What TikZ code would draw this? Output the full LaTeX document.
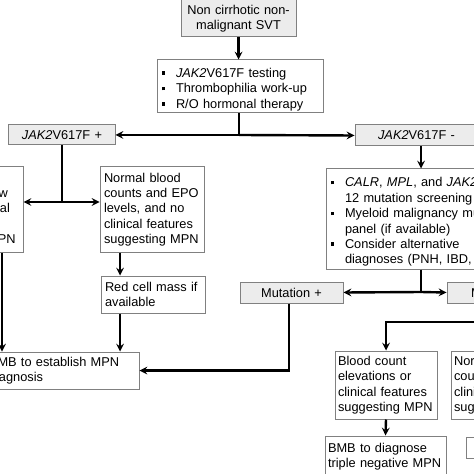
\documentclass[tikz,border=0pt]{standalone}
\usepackage{fontspec}
\setmainfont{Liberation Sans}
\definecolor{boxline}{RGB}{128,128,128}
\definecolor{headfill}{RGB}{236,236,236}
\newcommand{\bitem}{\par\noindent\hangindent=16bp\hangafter=1\makebox[16bp][l]{\hspace{2bp}\rule[2.6bp]{3.4bp}{3.4bp}}}
\begin{document}
\begin{tikzpicture}[x=1bp, y=-1bp,
    arrow/.style = {line width=2.4bp,-stealth},
    link/.style = {line width=2.4bp},
    box/.style = {draw=boxline, line width=1bp, fill=white, inner xsep=4bp, inner ysep=0pt,
                  align=left, font=\fontsize{12.8bp}{15.4bp}\selectfont},
    head/.style = {box, fill=headfill, align=center}]
  \useasboundingbox (0,0) rectangle (474,474);
  \clip (0,0) rectangle (474,474);

  % top of the chart
  \node[head, text width=107bp, minimum height=37bp] (svt) at (238.5,18.5) {Non cirrhotic non-\\malignant SVT};
  \node[box, inner xsep=3bp, text width=160bp, minimum height=53bp] (test) at (240,86.5)
    {\bitem\textit{JAK2}V617F testing\bitem Thrombophilia work-up\bitem R/O hormonal therapy\par};
  \node[head, text width=98bp, minimum height=20bp] (jpos) at (62,135) {\textit{JAK2}V617F +};
  \node[head, text width=115bp, minimum height=21bp] (jneg) at (416.5,135.5) {\textit{JAK2}V617F -};

  % positive branch
  \node[box, text width=98bp, minimum height=85bp] (elev) at (-30,209.5)
    {High blood\\counts and low\\EPO, or clinical\\features\\suggesting MPN};
  \node[box, text width=96bp, minimum height=85bp] (normal) at (152,209.5)
    {Normal blood\\counts and EPO\\levels, and no\\clinical features\\suggesting MPN};
  \node[box, text width=96bp, minimum height=37bp] (rcm) at (153,294.5) {Red cell mass if\\available};
  \node[box, text width=146bp, minimum height=37bp] (bmbl) at (62,370.5) {BMB to establish MPN\\diagnosis};

  % negative branch
  \node[box, inner xsep=3bp, text width=184bp, minimum height=100bp] (calr) at (421,219)
    {\bitem\textit{CALR}, \textit{MPL}, and \textit{JAK2} exon\newline 12 mutation screening
     \bitem Myeloid malignancy mutation\newline panel (if available)
     \bitem Consider alternative\newline diagnoses (PNH, IBD, etc.)\par};
  \node[head, text width=95bp, minimum height=21bp] (mutp) at (291.5,292.5) {Mutation +};
  \node[head, text width=98bp, minimum height=21bp] (mutn) at (500,292.5) {Mutation -};
  \node[box, inner xsep=3bp, text width=96bp, minimum height=68bp] (bc) at (386,385)
    {Blood count\\elevations or\\clinical features\\suggesting MPN};
  \node[box, inner xsep=3bp, text width=96bp, minimum height=68bp] (norm2) at (502,385)
    {Normal blood\\counts and no\\clinical features\\suggesting MPN};
  \node[box, inner xsep=3bp, text width=115bp, minimum height=41bp] (bmbt) at (385.5,456.5)
    {BMB to diagnose\\triple negative MPN};
  \node[box, minimum width=80bp, minimum height=21bp] (fu) at (506,447.5) {};

  % connectors
  \coordinate (split) at (239,135);
  \coordinate (leftsplit) at (62,202);
  \coordinate (rightsplit) at (421,292);
  \coordinate (negsplit) at (502,322);
  \coordinate (xa) at (2,0);
  \coordinate (xb) at (120,0);
  \coordinate (xc) at (289,0);

  \draw[arrow] (svt.south) -- (svt.south |- test.north);
  \draw[link] (test.south -| split) -- (split);
  \draw[arrow] (split) -- (jpos.east);
  \draw[arrow] (split) -- (jneg.west);

  \draw[link] (jpos.south) -- (leftsplit);
  \draw[arrow] (leftsplit) -- (elev.east |- leftsplit);
  \draw[arrow] (leftsplit) -- (normal.west |- leftsplit);
  \draw[arrow] (elev.south -| xa) -- (bmbl.north -| xa);
  \draw[arrow] (normal.south -| xb) -- (rcm.north -| xb);
  \draw[arrow] (rcm.south -| xb) -- (bmbl.north -| xb);
  \draw[arrow] (mutp.south -| xc) |- (bmbl.east);

  \draw[arrow] (calr.north |- jneg.south) -- (calr.north);
  \draw[link] (calr.south) -- (rightsplit);
  \draw[arrow] (rightsplit) -- (mutp.east);
  \draw[arrow] (rightsplit) -- (mutn.west);
  \draw[link] (mutn.south -| negsplit) -- (negsplit);
  \draw[arrow] (negsplit) -| (bc.north);
  \draw[arrow] (negsplit) -- (norm2.north);
  \draw[arrow] (bc.south) -- (bmbt.north);
\end{tikzpicture}
\end{document}
